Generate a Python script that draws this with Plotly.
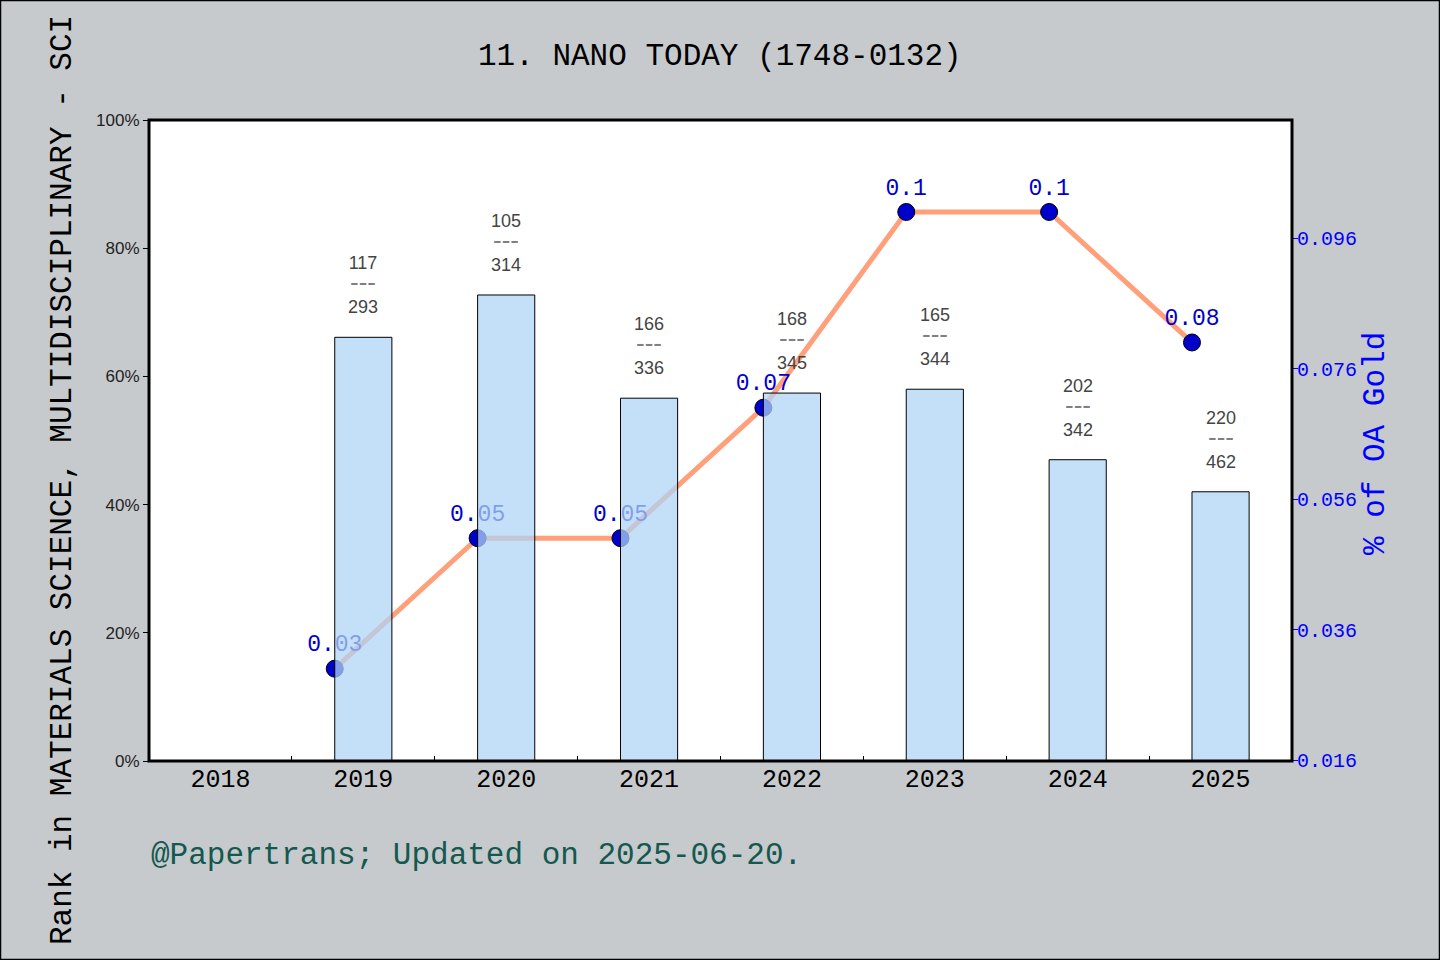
import plotly.graph_objects as go

# ---------------- data ----------------
years = ["2018", "2019", "2020", "2021", "2022", "2023", "2024", "2025"]
bar_years = ["2019", "2020", "2021", "2022", "2023", "2024", "2025"]
rank_pct = [66.1, 72.7, 56.6, 57.4, 58.0, 47.0, 42.0]
rank_num = [117, 105, 166, 168, 165, 202, 220]
cat_total = [293, 314, 336, 345, 344, 342, 462]
oa_gold = [0.03, 0.05, 0.05, 0.07, 0.1, 0.1, 0.08]
oa_labels = ["0.03", "0.05", "0.05", "0.07", "0.1", "0.1", "0.08"]
left_ticks = [0, 20, 40, 60, 80, 100]
left_ticktext = ["0%", "20%", "40%", "60%", "80%", "100%"]
right_ticks = [0.016, 0.036, 0.056, 0.076, 0.096]

title_text = "11. NANO TODAY (1748-0132)"
left_title = "Rank in MATERIALS SCIENCE, MULTIDISCIPLINARY - SCI"
right_title = "% of OA Gold"
footer = "@Papertrans; Updated on 2025-06-20."

MONO = "Liberation Mono, DejaVu Sans Mono, monospace"
SANS = "Liberation Sans, Arial, sans-serif"

W, H = 1440, 960
ML, MR, MT, MB = 149, 148, 120, 199
PW, PH = W - ML - MR, H - MT - MB
BAR_W = 0.4
LINE_OFFSET = -BAR_W / 2  # line points sit at the left edge of each bar


def px_x(x):
    return (x - ML) / PW


def px_y(y):
    return (H - MB - y) / PH


year_idx = {y: i for i, y in enumerate(years)}
bar_pos = [year_idx[y] for y in bar_years]
line_pos = [p + LINE_OFFSET for p in bar_pos]

fig = go.Figure()

# line (base axis 'y', drawn underneath the bars)
fig.add_trace(go.Scatter(
    x=line_pos, y=oa_gold, yaxis="y", mode="lines+markers+text",
    line=dict(color="#FFA07A", width=5),
    marker=dict(color="#0000CD", size=17, line=dict(color="black", width=1)),
    text=oa_labels, textposition="top center",
    textfont=dict(family=MONO, size=23, color="#0000CD"),
    cliponaxis=False, showlegend=False, hoverinfo="skip",
))

# bars (overlay axis 'y2', drawn on top, semi transparent)
fig.add_trace(go.Bar(
    x=bar_pos, y=rank_pct, yaxis="y2", width=BAR_W,
    marker=dict(color="rgba(176,212,245,0.74)", line=dict(color="black", width=1)),
    showlegend=False, hoverinfo="skip",
))

annotations = []
for p, v, n, d in zip(bar_pos, rank_pct, rank_num, cat_total):
    label = (f"<span style='font-size:18px'>{n}</span><br>"
             f"<span style='color:#808080;font-size:26px'>---</span><br>"
             f"<span style='font-size:18px'>{d}</span>")
    annotations.append(dict(x=p, y=v, xref="x", yref="y2", text=label, showarrow=False,
                            yanchor="middle", yshift=52, borderpad=0,
                            font=dict(family=SANS, size=17, color="#444444")))

annotations.append(dict(x=px_x(62), y=px_y(480), xref="paper", yref="paper", text=left_title,
                        textangle=-90, showarrow=False, xanchor="center", yanchor="middle",
                        font=dict(family=MONO, size=31, color="black")))
annotations.append(dict(x=px_x(1375), y=px_y(444), xref="paper", yref="paper", text=right_title,
                        textangle=-90, showarrow=False, xanchor="center", yanchor="middle",
                        font=dict(family=MONO, size=31, color="#0000FF")))
annotations.append(dict(x=px_x(149), y=px_y(855), xref="paper", yref="paper", text=footer,
                        showarrow=False, xanchor="left", yanchor="middle",
                        font=dict(family=MONO, size=31, color="#14584F")))
annotations.append(dict(x=px_x(720), y=px_y(56), xref="paper", yref="paper", text=title_text,
                        showarrow=False, xanchor="center", yanchor="middle",
                        font=dict(family=MONO, size=31, color="black")))

shapes = [
    dict(type="rect", xref="paper", yref="paper", x0=0, x1=1, y0=0, y1=1,
         line=dict(color="black", width=3), layer="above"),
    dict(type="rect", xref="paper", yref="paper",
         x0=px_x(0.5), x1=px_x(W - 0.5), y0=px_y(H - 0.5), y1=px_y(0.5),
         line=dict(color="black", width=1.5), layer="above"),
]

fig.update_layout(
    width=W, height=H,
    margin=dict(l=ML, r=MR, t=MT, b=MB, autoexpand=False),
    paper_bgcolor="#C6CACD", plot_bgcolor="white",
    xaxis=dict(type="linear", range=[-0.5, len(years) - 0.5],
               tickvals=list(range(len(years))), ticktext=years, ticks="",
               tickfont=dict(family=MONO, size=25, color="black"),
               minor=dict(tickvals=[i + 0.5 for i in range(len(years) - 1)],
                          ticks="inside", ticklen=5, tickcolor="black", tickwidth=1,
                          showgrid=False),
               showgrid=False, zeroline=False, showline=False, fixedrange=True),
    yaxis=dict(side="right", range=[0.01585, 0.1141], tickvals=right_ticks,
               ticktext=[f"{t:.3f}" for t in right_ticks],
               ticks="outside", ticklen=5, tickcolor="#0000FF", ticklabelstandoff=-5,
               tickfont=dict(family=MONO, size=20, color="#0000FF"),
               showgrid=False, zeroline=False, showline=False),
    yaxis2=dict(side="left", overlaying="y", range=[0, 100], tickvals=left_ticks,
                ticktext=left_ticktext, ticks="outside", ticklen=5, tickcolor="black",
                tickfont=dict(family=SANS, size=17, color="#222222"),
                showgrid=False, zeroline=False, showline=False),
    annotations=annotations, shapes=shapes,
)

fig.write_html("out.html", config={"displayModeBar": False},
               post_script="document.body.style.margin='0';document.body.style.overflow='hidden';")
